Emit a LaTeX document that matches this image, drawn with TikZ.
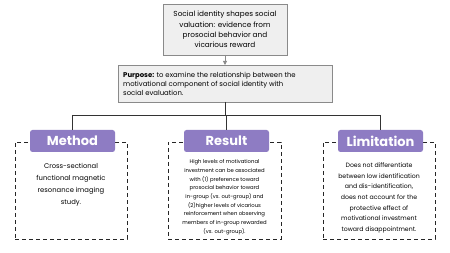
\documentclass[tikz,border=0pt]{standalone}
\usepackage{fontspec}
\setmainfont{Poppins}
\usetikzlibrary{arrows.meta}
\definecolor{hdr}{HTML}{8E7CC3}
\definecolor{boxfill}{HTML}{EFEFEF}
\definecolor{boxline}{HTML}{8A8A8A}
\begin{document}
\begin{tikzpicture}[x=1pt,y=-1pt,
  graybox/.style={draw=boxline,fill=boxfill,line width=0.8pt,inner sep=0pt,outer sep=0pt},
  dashbox/.style={draw=black!85,dashed,dash pattern=on 4pt off 3pt,line width=0.75pt,inner sep=0pt,outer sep=0pt},
  hdrbox/.style={fill=hdr,rounded corners=2.5pt,text=white,font=\fontsize{13}{15}\selectfont\bfseries,inner sep=0pt,outer sep=0pt,minimum width=85pt,minimum height=22pt},
  conn/.style={draw=black!80,line width=0.8pt},
  body/.style={align=center,inner sep=0pt}
]
\useasboundingbox (0,0) rectangle (450,253);
% title
\node[graybox,minimum width=124pt,minimum height=51pt] (title) at (225,29.5) {};
\node[body,font=\fontsize{7.3}{10.3}\selectfont] (titletext) at (title.center) {Social identity shapes social\\valuation: evidence from\\prosocial behavior and\\vicarious reward};
% purpose
\node[graybox,minimum width=214pt,minimum height=37pt] (purpose) at (225,83.5) {};
\node[align=left,inner sep=0pt,font=\fontsize{6.9}{9}\selectfont,anchor=west] (purposetext) at (123,83.5) {\textbf{Purpose:} to examine the relationship between the\\motivational component of social identity with\\social evaluation.};
\draw[draw=boxline,line width=0.8pt,-{Triangle[length=4pt,width=4pt]}] (title.south) -- (purpose.north);
% dashed boxes
\node[dashbox,minimum width=112pt,minimum height=97pt] (mbox) at (71,190.5) {};
\node[dashbox,minimum width=113pt,minimum height=97pt] (rbox) at (224.5,190.5) {};
\node[dashbox,minimum width=112pt,minimum height=97pt] (lbox) at (379,190.5) {};
% headers
\node[hdrbox] (mhdr) at (72.5,141) {Method};
\node[hdrbox] (rhdr) at (226.5,141) {Result};
\node[hdrbox] (lhdr) at (380.5,141) {Limitation};
% connectors
\coordinate (jun) at (225,115);
\coordinate (jl) at (72.5,115);
\coordinate (jr) at (380.5,115);
\draw[conn] (purpose.south) -- (jun);
\draw[conn] (jl) -- (jr);
\draw[conn] (jl) -- (mhdr.north);
\draw[conn] (jun -| rhdr.north) -- (rhdr.north);
\draw[conn] (jr) -- (lhdr.north);
% body texts
\node[body,font=\fontsize{6.8}{12}\selectfont,anchor=north] (mtext) at (71,163) {Cross-sectional\\functional magnetic\\resonance imaging\\study.};
\node[body,font=\fontsize{5.3}{8.7}\selectfont,anchor=north] (rtext) at (224.5,159.5) {High levels of motivational\\investment can be associated\\with (1) preference toward\\prosocial behavior toward\\in-group (vs. out-group) and\\(2)higher levels of vicarious\\reinforcement when observing\\members of in-group rewarded\\(vs. out-group).};
\node[body,font=\fontsize{6.2}{10.7}\selectfont,anchor=north] (ltext) at (379,162.5) {Does not differentiate\\between low identification\\and dis-identification,\\does not account for the\\protective effect of\\motivational investment\\toward disappointment.};
\end{tikzpicture}
\end{document}
